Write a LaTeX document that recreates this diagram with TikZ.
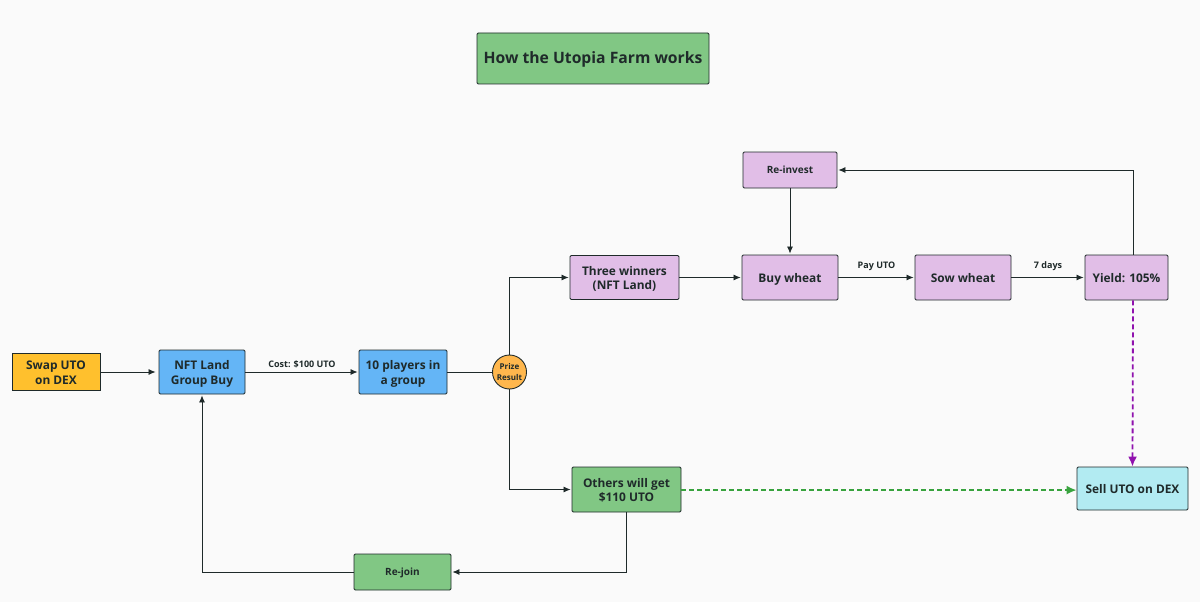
\documentclass[tikz,border=0pt]{standalone}
\usepackage{fontspec}
\setmainfont{Open Sans}
\usetikzlibrary{arrows.meta}
\definecolor{bgc}{HTML}{FAFAFA}
\definecolor{ink}{HTML}{1F2A2A}
\definecolor{greenb}{HTML}{81C784}
\definecolor{blueb}{HTML}{64B5F6}
\definecolor{purpleb}{HTML}{E1BEE7}
\definecolor{yellowb}{HTML}{FFC02D}
\definecolor{orangeb}{HTML}{FFB74D}
\definecolor{cyanb}{HTML}{B2EBF2}
\definecolor{greenl}{HTML}{38A33E}
\definecolor{purplel}{HTML}{9012AE}
\newcommand{\dn}[2][2pt]{\raisebox{-#1}[\height][\depth]{\begin{tabular}{@{}c@{}}#2\end{tabular}}}
\tikzset{
  x=1pt,y=-1pt,
  box/.style={draw=ink,line width=0.9pt,rounded corners=1.2pt,align=center,text=ink,inner sep=0pt,font=\fontsize{11.9}{14.5}\selectfont\bfseries},
  small/.style={box,font=\fontsize{10}{13}\selectfont\bfseries},
  lab/.style={text=ink,inner sep=0pt,font=\fontsize{9}{11}\selectfont\bfseries},
  conn/.style={draw=ink,line width=0.8pt,-{Latex[length=7pt,width=6pt]},shorten >=1pt},
  plain/.style={draw=ink,line width=0.8pt},
  dashg/.style={draw=greenl,line width=1.8pt,dash pattern=on 5pt off 3pt,-{Latex[length=10pt,width=9pt]}},
  dashp/.style={draw=purplel,line width=1.8pt,dash pattern=on 5pt off 3pt,-{Latex[length=10pt,width=9pt]}},
}
\begin{document}
\begin{tikzpicture}
\fill[bgc] (0,0) rectangle (1200,602);
\useasboundingbox (0,0) rectangle (1200,602);
\node[box,fill=greenb,minimum width=232pt,minimum height=51pt,font=\fontsize{15.7}{20}\selectfont\bfseries] (title) at (593,58.5) {\dn[1pt]{How the Utopia Farm works}};
\node[box,fill=yellowb,rounded corners=0pt,minimum width=88pt,minimum height=37pt] (swap) at (56,372) {\dn{Swap UTO\\on DEX}};
\node[box,fill=blueb,minimum width=86pt,minimum height=44pt] (nft) at (202,372) {\dn{NFT Land\\Group Buy}};
\node[box,fill=blueb,minimum width=88pt,minimum height=44pt] (players) at (403,372) {\dn{10 players in\\a group}};
\node[draw=ink,line width=0.9pt,fill=orangeb,circle,minimum size=34pt,inner sep=0pt,align=center,text=ink,font=\fontsize{8}{10.5}\selectfont\bfseries] (prize) at (509.5,372) {\dn[1pt]{Prize\\Result}};
\node[box,fill=purpleb,minimum width=109pt,minimum height=44pt] (three) at (624.5,277.5) {\dn{Three winners\\(NFT Land)}};
\node[box,fill=purpleb,minimum width=96pt,minimum height=45pt] (buy) at (790,277.5) {\dn{Buy wheat}};
\node[small,fill=purpleb,minimum width=94pt,minimum height=36pt] (reinvest) at (790,170) {\dn[1pt]{Re-invest}};
\node[box,fill=purpleb,minimum width=96pt,minimum height=45pt] (sow) at (963,277.5) {\dn{Sow wheat}};
\node[box,fill=purpleb,minimum width=83pt,minimum height=45pt] (yield) at (1126.5,277.5) {\dn{Yield: 105\%}};
\node[box,fill=greenb,minimum width=109pt,minimum height=45pt] (others) at (626.5,489.5) {\dn{Others will get\\\$110 UTO}};
\node[small,fill=greenb,minimum width=97pt,minimum height=36pt] (rejoin) at (402.5,572) {\dn[1pt]{Re-join}};
\node[box,fill=cyanb,minimum width=111pt,minimum height=43pt] (sell) at (1132.5,488.5) {\dn{Sell UTO on DEX}};

\draw[conn] (swap.east) -- ([xshift=-2pt]nft.west);
\draw[conn] (nft.east) -- node[lab,above=4pt] {Cost: \$100 UTO} (players.west);
\draw[plain] (players.east) -- (prize.west);
\draw[conn] (prize.north) |- (three.west);
\draw[conn] (prize.south) |- (others.west);
\draw[conn] (three.east) -- (buy.west);
\draw[conn] (reinvest.south) -- (buy.north);
\draw[conn] (buy.east) -- node[lab,above=6.5pt] {Pay UTO} (sow.west);
\draw[conn] (sow.east) -- node[lab,above=6.5pt] {7 days} (yield.west);
\draw[conn] ([xshift=6.5pt]yield.north) |- (reinvest.east);
\draw[conn] (others.south) |- (rejoin.east);
\draw[conn] (rejoin.west) -| (nft.south);
\draw[dashg] ([yshift=-0.6pt]others.east) -- ([yshift=-0.6pt]others.east -| sell.west);
\draw[dashp] ([xshift=6.5pt]yield.south) -- (sell.north);
\end{tikzpicture}
\end{document}
